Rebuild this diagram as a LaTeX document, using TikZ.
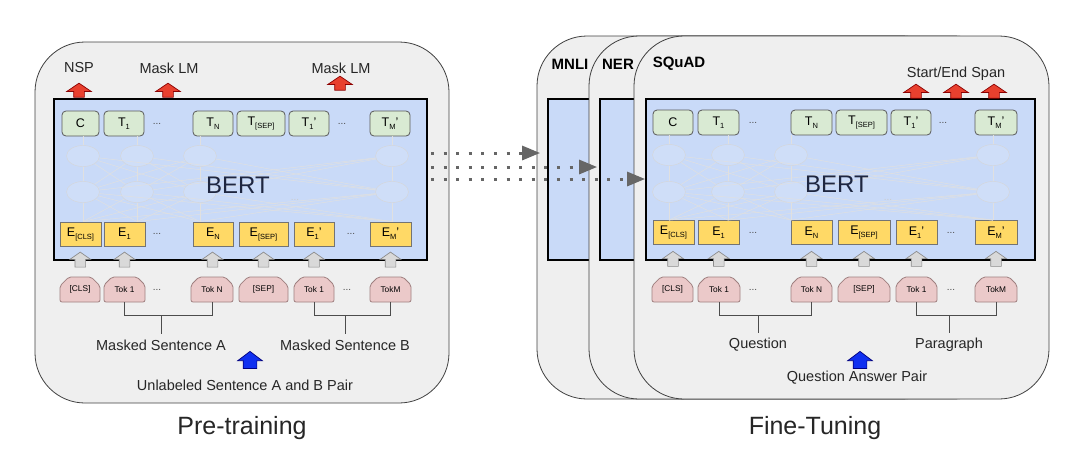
\documentclass[tikz,border=0pt]{standalone}
\usepackage{fontspec}
\setmainfont{Liberation Sans}
\usetikzlibrary{arrows.meta, positioning, calc, shapes.misc, shapes.arrows, shapes.geometric}

\definecolor{panelgray}{HTML}{EFEFEF}
\definecolor{bertblue}{HTML}{C9DAF8}
\definecolor{outgreen}{HTML}{D9EAD3}
\definecolor{embyellow}{HTML}{FFD966}
\definecolor{tokpink}{HTML}{EBC9C9}
\definecolor{headred}{HTML}{E8402E}
\definecolor{pairblue}{HTML}{1030F0}
\definecolor{bertnavy}{HTML}{1E2640}
\newcommand\lsub[1]{\raisebox{-0.45ex}{\fontsize{7.5}{8}\selectfont #1}}

\begin{document}
\begin{tikzpicture}[x=1pt, y=-1pt,
    panel/.style={draw=black!75, fill=panelgray, rounded corners=50pt, line width=0.8pt},
    bertbox/.style={draw=black, fill=bertblue, line width=1.8pt},
    tbox/.style={draw=black!65, fill=outgreen, rounded corners=4pt, line width=0.8pt,
        minimum height=25pt, inner sep=0pt, font=\fontsize{12.5}{14}\selectfont},
    ebox/.style={draw=black!55, fill=embyellow, line width=0.8pt,
        minimum height=24pt, inner sep=0pt, font=\fontsize{12.5}{14}\selectfont},
    tokbox/.style={chamfered rectangle, chamfered rectangle corners={north west,north east},
        chamfered rectangle xsep=5pt, chamfered rectangle ysep=5pt, rounded corners=2pt,
        draw=red!25!black!50, fill=tokpink, line width=0.8pt,
        minimum height=25pt, inner sep=0pt, font=\fontsize{8.3}{10}\selectfont},
    dots/.style={font=\fontsize{10}{12}\selectfont, text=black!70},
    cell/.style={ellipse, draw=black!16, fill=white, fill opacity=0.12,
        minimum width=33pt, minimum height=21pt, inner sep=0pt},
    wire/.style={draw=black!12, line width=0.5pt},
    bertlabel/.style={font=\fontsize{24}{28}\selectfont, text=bertnavy},
    lbl/.style={font=\fontsize{14.5}{17}\selectfont, text=black!85},
    task/.style={font=\fontsize{15}{18}\selectfont\bfseries},
    caption/.style={font=\fontsize{25}{30}\selectfont, text=black!85},
    bracket/.style={draw=black!70, line width=0.9pt},
    grayarr/.style={single arrow, shape border rotate=90, draw=black!45, fill=black!15,
        inner xsep=5pt, inner ysep=0pt, single arrow head extend=5pt,
        single arrow tip angle=110, minimum height=15pt, line width=0.7pt},
    redarr/.style={single arrow, shape border rotate=90, draw=red!55!black, fill=headred,
        inner xsep=5pt, inner ysep=0pt, single arrow head extend=7pt,
        single arrow tip angle=112, minimum height=14pt, line width=0.7pt},
    bluearr/.style={single arrow, shape border rotate=90, draw=blue!50!black, fill=pairblue,
        inner xsep=6.5pt, inner ysep=0pt, single arrow head extend=5.5pt,
        single arrow tip angle=106, minimum height=17pt, line width=0.7pt},
    dotarrow/.style={draw=black!60, line width=3pt, dash pattern=on 3pt off 9.6pt,
        -{Triangle[length=18pt, width=14pt]}}]
\useasboundingbox (0,0) rectangle (1080,459);

% Pre-training panel
\node[panel, minimum width=414pt, minimum height=361pt] (preP) at (242,222.5) {};
\node[bertbox, minimum width=373pt, minimum height=161pt] (bertL) at (240.5,179.5) {};

\foreach \n/\x/\w/\txt in {c/80.5/37/C, 1/124/40/T\lsub{1}, n/213/40/T\lsub{N},
    sep/261/48/T\lsub{[SEP]}, p1/309/40/T\lsub{1}', pm/390/40/T\lsub{M}'}
  \node[tbox, minimum width=\w pt] (Lt\n) at (\x,123.5) {\txt};
\node[dots] (Ltd1) at (157,123.5) {...};
\node[dots] (Ltd2) at (342,123.5) {...};

\foreach \n/\x/\w/\txt in {c/80.5/41/E\lsub{[CLS]}, 1/124.5/41/E\lsub{1}, n/213/40/E\lsub{N},
    sep/263.5/49/E\lsub{[SEP]}, p1/314/40/E\lsub{1}', pm/390.5/41/E\lsub{M}'}
  \node[ebox, minimum width=\w pt] (Le\n) at (\x,234) {\txt};
\node[dots] (Led1) at (157,234) {...};
\node[dots] (Led2) at (351,234) {...};

% hidden layers
\foreach \x [count=\i] in {83,137,200,392} {
  \node[cell] (La\i) at (\x,156) {};
  \node[cell] (Lb\i) at (\x,192) {};
}
\foreach \i in {1,...,4} {
  \draw[wire] (La\i) -- (La\i |- Ltc.south);
  \foreach \j in {1,...,4} {
    \draw[wire] (La\i) -- (Lb\j);
    \draw[wire] (Lb\i) -- (Lb\j |- Lec.north);
  }
}
\node[dots, text=black!20] (Lhd) at (295,200) {...};
\node[bertlabel] (bertLt) at (238,185) {BERT};

% input tokens
\foreach \n/\x/\w/\txt in {c/80/40/[CLS], 1/124.5/41/Tok 1, n/212/42/Tok N,
    sep/263.5/49/[SEP], p1/314/40/Tok 1, pm/390.5/41/TokM}
  \node[tokbox, minimum width=\w pt] (Lk\n) at (\x,289.5) {\txt};
\node[dots] (Lkd1) at (157,289.5) {...};
\node[dots] (Lkd2) at (347,289.5) {...};
\foreach \n in {c,1,n,sep,p1,pm}
  \node[grayarr] (Lg\n) at ($(Lk\n.north)!0.5!(Le\n.south)$) {};

\node[lbl] (msA) at (161,345) {Masked Sentence A};
\node[lbl] (msB) at (345,345) {Masked Sentence B};
\draw[bracket] (Lk1.south) -- (Lk1.south |- 0,315) -- (Lkn.south |- 0,315) -- (Lkn.south);
\draw[bracket] (Lkp1.south) -- (Lkp1.south |- 0,315) -- (Lkpm.south |- 0,315) -- (Lkpm.south);
\draw[bracket, shorten >=2pt] (msA.north |- 0,315) -- (msA.north);
\draw[bracket, shorten >=2pt] (msB.north |- 0,315) -- (msB.north);
\node[bluearr] (preA) at (250,362.5) {};
\node[lbl] (preIn) at (245,385) {Unlabeled Sentence A and B Pair};

% heads
\node[lbl] (nsp) at (79,68) {NSP};
\node[lbl] (mlm1) at (169,68) {Mask LM};
\node[lbl] (mlm2) at (341,68) {Mask LM};
\node[redarr] (nspA) at (79,92) {};
\node[redarr] (mlm1A) at (168,92) {};
\node[redarr] (mlm2A) at (340,85) {};

\node[caption] (preC) at (242,428) {Pre-training};

% Fine-tuning panels
\node[panel, minimum width=415pt, minimum height=363pt] (mnliP) at (744.5,217.5) {};
\node[bertbox, minimum width=389pt, minimum height=161pt] (bertM) at (742.5,179.5) {};
\node[task] (mnliL) at (570,64) {MNLI};
\node[panel, minimum width=415pt, minimum height=363pt] (nerP) at (796.5,217.5) {};
\node[bertbox, minimum width=389pt, minimum height=161pt] (bertN) at (794.5,179.5) {};
\node[task] (nerL) at (618,64) {NER};
\node[panel, minimum width=415pt, minimum height=363pt] (sqP) at (841.5,217.5) {};
\node[bertbox, minimum width=389pt, minimum height=161pt] (bertR) at (840.5,179.5) {};
\node[task] (sqL) at (679,64) {SQuAD};

\foreach \n/\x/\w/\txt in {c/673/40/C, 1/718.5/41/T\lsub{1}, n/811.5/41/T\lsub{N},
    sep/861.5/51/T\lsub{[SEP]}, p1/911/40/T\lsub{1}', pm/996/42/T\lsub{M}'}
  \node[tbox, minimum width=\w pt] (Rt\n) at (\x,122.5) {\txt};
\node[dots] (Rtd1) at (753,122.5) {...};
\node[dots] (Rtd2) at (943,122.5) {...};

\foreach \n/\x/\w/\txt in {c/673.5/41/E\lsub{[CLS]}, 1/718.5/41/E\lsub{1}, n/811.5/41/E\lsub{N},
    sep/864/52/E\lsub{[SEP]}, p1/916.5/41/E\lsub{1}', pm/996/42/E\lsub{M}'}
  \node[ebox, minimum width=\w pt] (Re\n) at (\x,232.5) {\txt};
\node[dots] (Red1) at (753,232.5) {...};
\node[dots] (Red2) at (951,232.5) {...};

\foreach \x [count=\i] in {669,728,791,993} {
  \node[cell] (Ra\i) at (\x,155) {};
  \node[cell] (Rb\i) at (\x,192) {};
}
\foreach \i in {1,...,4} {
  \draw[wire] (Ra\i) -- (Ra\i |- Rtc.south);
  \foreach \j in {1,...,4} {
    \draw[wire] (Ra\i) -- (Rb\j);
    \draw[wire] (Rb\i) -- (Rb\j |- Rec.north);
  }
}
\node[dots, text=black!20] (Rhd) at (888,200) {...};
\node[bertlabel] (bertRt) at (837,184) {BERT};

\foreach \n/\x/\w/\txt in {c/672.5/41/[CLS], 1/719/42/Tok 1, n/811.5/41/Tok N,
    sep/864/52/[SEP], p1/916.5/41/Tok 1, pm/996/42/TokM}
  \node[tokbox, minimum width=\w pt] (Rk\n) at (\x,289.5) {\txt};
\node[dots] (Rkd1) at (753,289.5) {...};
\node[dots] (Rkd2) at (951,289.5) {...};
\foreach \n in {c,1,n,sep,p1,pm}
  \node[grayarr] (Rg\n) at ($(Rk\n.north)!0.5!(Re\n.south)$) {};

\node[lbl] (quest) at (758,345) {Question};
\node[lbl] (para) at (949,345) {Paragraph};
\draw[bracket] (Rk1.south) -- (Rk1.south |- 0,315) -- (Rkn.south |- 0,315) -- (Rkn.south);
\draw[bracket] (Rkp1.south) -- (Rkp1.south |- 0,315) -- (Rkpm.south |- 0,315) -- (Rkpm.south);
\draw[bracket, shorten >=2pt] (quest.north |- 0,315) -- (quest.north);
\draw[bracket, shorten >=2pt] (para.north |- 0,315) -- (para.north);
\node[bluearr] (ftA) at (860,362.5) {};
\node[lbl] (ftIn) at (857,378) {Question Answer Pair};

\node[lbl] (span) at (956,74) {Start/End Span};
\node[redarr] (spanA1) at (916,93) {};
\node[redarr] (spanA2) at (956,93) {};
\node[redarr] (spanA3) at (994,93) {};

\node[caption] (ftC) at (815,428) {Fine-Tuning};

% transfer
\draw[dotarrow, shorten <=3pt, shorten >=7pt] (bertL.east |- 0,153) -- (bertM.west |- 0,153);
\draw[dotarrow, shorten <=3pt, shorten >=2pt] (bertL.east |- 0,167) -- (bertN.west |- 0,167);
\draw[dotarrow, shorten <=3pt] (bertL.east |- 0,179) -- (bertR.west |- 0,179);
\end{tikzpicture}
\end{document}
